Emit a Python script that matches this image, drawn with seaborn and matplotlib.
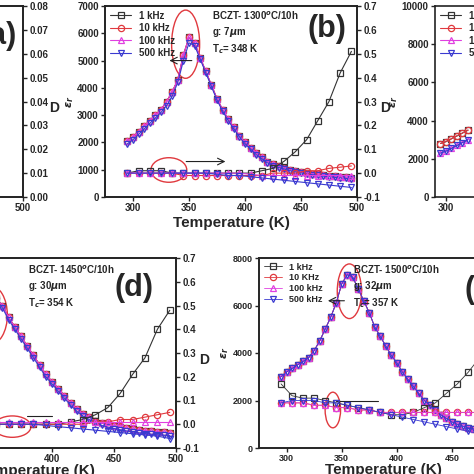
import numpy as np
import matplotlib
matplotlib.use("Agg")
import matplotlib.pyplot as plt
import seaborn as sns
from matplotlib.patches import Ellipse

sns.set_theme(style="ticks")
plt.rcParams['font.family'] = ['Liberation Sans', 'DejaVu Sans']
plt.rcParams['font.weight'] = 'bold'

freqs = ['1 kHz', '10 kHz', '100 kHz', '500 kHz']
colors = ['#333333', '#e0393e', '#e040e0', '#3a3ad0']
markers = ['s', 'o', '^', 'v']

# temperatures for permittivity (5 K) and loss (10 K)
t_eps = list(range(295, 500, 5))
t_d = list(range(295, 500, 10))

# panel (b) 1300C
eps_b_low = [2050, 2200, 2400, 2600, 2800, 3000, 3200, 3500, 3850, 4300, 5200, 5850, 5650, 5100,
             4600, 4100, 3600, 3200, 2850, 2550, 2250, 2000, 1800, 1600, 1450, 1300, 1200, 1120,
             1060, 1000, 960, 920, 890, 860, 830, 800, 780, 760, 740, 720, 700]
eps_b_500k = [1950, 2100, 2300, 2500, 2700, 2900, 3100, 3350, 3700, 4200, 5000, 5650, 5550, 5050,
              4550, 4050, 3550, 3150, 2800, 2500, 2200, 1950, 1750, 1550, 1400, 1250, 1150, 1080,
              1020, 960, 920, 880, 850, 820, 790, 760, 740, 720, 700, 680, 660]
d_b_1k = [0.0, 0.01, 0.01, 0.01, 0.0, 0.0, 0.0, 0.0, 0.0, 0.0, 0.0, 0.0, 0.01, 0.02, 0.05, 0.09,
          0.14, 0.22, 0.30, 0.42, 0.51]
d_b_10k = [0.0, 0.0, 0.0, 0.0, 0.0, -0.01, -0.01, -0.01, -0.01, -0.01, -0.01, -0.01, -0.01, 0.0,
           0.0, 0.0, 0.01, 0.01, 0.02, 0.025, 0.03]
d_b_100k = [0.0, 0.0, 0.0, 0.0, 0.0, 0.0, 0.0, 0.0, 0.0, 0.0, 0.0, -0.005, -0.01, -0.01, -0.01,
            -0.01, -0.01, -0.01, -0.01, -0.01, -0.01]
d_b_500k = [0.0, 0.0, 0.0, 0.0, 0.0, 0.0, 0.0, 0.0, -0.005, -0.01, -0.01, -0.015, -0.02, -0.025,
            -0.03, -0.035, -0.04, -0.045, -0.05, -0.055, -0.06]

# panel (d) 1450C
eps_d_low = [3000, 3200, 3400, 3600, 3900, 4200, 4600, 5000, 5500, 6000, 6300, 6400, 6300, 6000,
             5500, 5100, 4700, 4300, 3900, 3500, 3100, 2800, 2500, 2200, 1900, 1650, 1450, 1300,
             1150, 1050, 980, 920, 870, 830, 790, 760, 730, 700, 680, 660, 640]
eps_d_500k = [2900, 3100, 3300, 3500, 3800, 4100, 4500, 4900, 5400, 5900, 6200, 6300, 6200, 5900,
              5400, 5000, 4600, 4200, 3800, 3400, 3000, 2700, 2400, 2100, 1800, 1550, 1350, 1200,
              1050, 950, 880, 820, 770, 720, 680, 640, 610, 580, 560, 540, 520]
d_d_1k = [0.0, 0.0, 0.0, 0.0, 0.0, 0.0, 0.0, 0.0, 0.0, 0.0, 0.0, 0.0, 0.01, 0.02, 0.04, 0.07,
          0.13, 0.21, 0.28, 0.40, 0.48]
d_d_10k = [0.0, 0.0, 0.0, 0.0, 0.0, 0.0, 0.0, 0.0, 0.0, 0.0, 0.0, 0.0, 0.0, 0.0, 0.01, 0.01,
           0.02, 0.02, 0.03, 0.04, 0.05]
d_d_100k = [0.01, 0.01, 0.01, 0.01, 0.01, 0.01, 0.01, 0.01, 0.01, 0.01, 0.01, 0.01, 0.01, 0.01,
            0.01, 0.01, 0.01, 0.01, 0.01, 0.01, 0.01]
d_d_500k = [0.0, 0.0, 0.0, 0.0, 0.0, 0.0, 0.0, 0.0, 0.0, 0.0, -0.005, -0.01, -0.015, -0.02,
            -0.025, -0.03, -0.035, -0.04, -0.045, -0.05, -0.06]

# panel (e) 1500C
eps_e_low = [3000, 3200, 3350, 3500, 3650, 3800, 4100, 4500, 5000, 5500, 6100, 6900, 7300, 7200,
             6700, 6200, 5700, 5100, 4700, 4300, 3900, 3600, 3200, 2900, 2600, 2300, 2000, 1800,
             1600, 1400, 1250, 1100, 1000, 920, 850, 800, 760, 720, 690, 660, 640]
d_e_1k = [0.17, 0.12, 0.11, 0.11, 0.10, 0.09, 0.08, 0.07, 0.06, 0.05, 0.04, 0.04, 0.05, 0.07,
          0.09, 0.13, 0.17, 0.22, 0.28, 0.35, 0.42]
d_e_10k = [0.09, 0.09, 0.09, 0.08, 0.08, 0.07, 0.07, 0.06, 0.06, 0.05, 0.05, 0.05, 0.05, 0.05,
           0.05, 0.05, 0.05, 0.05, 0.05, 0.05, 0.05]
d_e_500k = [0.09, 0.10, 0.10, 0.10, 0.09, 0.09, 0.08, 0.07, 0.06, 0.05, 0.04, 0.03, 0.02, 0.01,
            0.0, -0.01, -0.02, -0.03, -0.04, -0.05, -0.06]

# panel (c) 1400C, only the left edge is visible
t_c = [295, 300, 305, 310, 315, 320]
eps_c_1k = [2800, 2900, 3050, 3200, 3350, 3500]
eps_c_500k = [2300, 2400, 2550, 2700, 2850, 3000]

W = 474.0


def px_axes(fig, left, top, width, height):
    return fig.add_axes([left / W, (W - top - height) / W, width / W, height / W])


def style(ax, fs=7):
    for s in ax.spines.values():
        s.set_linewidth(1.2)
        s.set_color('#222222')
    ax.tick_params(labelsize=fs, width=1, length=3, direction='out', pad=1.5)
    for lab in ax.get_xticklabels() + ax.get_yticklabels():
        lab.set_fontweight('bold')


def series(ax, x, y, i, ms=4.5, lw=0.8, legend=True):
    sns.lineplot(x=x, y=y, ax=ax, color=colors[i], marker=markers[i], markersize=ms,
                 markerfacecolor='none', markeredgecolor=colors[i], markeredgewidth=0.9,
                 linewidth=lw, label=freqs[i] if legend else None, legend=legend)


fig = plt.figure(figsize=(4.74, 4.74), dpi=100)

# ---- panel (b)
ax = px_axes(fig, 105, 6, 252, 191)
eps_b = [eps_b_low, eps_b_low, eps_b_low, eps_b_500k]
d_b = [d_b_1k, d_b_10k, d_b_100k, d_b_500k]
ax2 = ax.twinx()
for i in range(4):
    series(ax, t_eps, eps_b[i], i)
    series(ax2, t_d, d_b[i], i, legend=False)
ax.set_xlim(275, 500)
ax.set_ylim(0, 7000)
ax2.set_ylim(-0.1, 0.7)
ax.set_xticks([300, 350, 400, 450, 500])
ax.set_yticks(range(0, 7001, 1000))
ax2.set_yticks(np.round(np.arange(-0.1, 0.71, 0.1), 1))
ax2.set_yticklabels(['-0.1', '0.0', '0.1', '0.2', '0.3', '0.4', '0.5', '0.6', '0.7'])
ax.set_xlabel('Temperature (K)', fontsize=11, fontweight='bold', labelpad=2)
ax.set_ylabel(r'$\varepsilon_r$', fontsize=8, labelpad=1)
ax2.set_ylabel('D', fontsize=10, fontweight='bold', rotation=0, labelpad=4)
style(ax); style(ax2)
ax.legend(loc='upper left', frameon=False, handlelength=2.2, borderaxespad=0.1,
          labelspacing=0.25, prop={'weight': 'bold', 'size': 7})
ax.text(0.425, 0.98, 'BCZT- 1300$^o$C/10h\ng: 7$\\mu$m\nT$_c$= 348 K', transform=ax.transAxes,
        fontsize=7, fontweight='bold', va='top', linespacing=1.3)
ax.text(0.88, 0.88, '(b)', transform=ax.transAxes, fontsize=22, fontweight='bold',
        ha='center', va='center')
ax.add_patch(Ellipse((347, 5600), 25, 2500, fill=False, color='#e0393e', lw=1.0))
ax.add_patch(Ellipse((332, 990), 32, 900, fill=False, color='#e0393e', lw=1.0))
ax.annotate('', xy=(330, 5000), xytext=(355, 5000),
            arrowprops=dict(arrowstyle='->', color='#222222', lw=0.8))
ax.annotate('', xy=(385, 1300), xytext=(345, 1300),
            arrowprops=dict(arrowstyle='->', color='#222222', lw=0.8))

# ---- panel (a), only the right edge
axa = px_axes(fig, -229, 6, 252, 191)
axa2 = axa.twinx()
axa.set_xlim(275, 500)
axa.set_xticks([500])
axa.set_yticks([])
axa2.set_ylim(0, 0.08)
axa2.set_yticks(np.round(np.arange(0, 0.081, 0.01), 2))
axa2.set_yticklabels(['0.00', '0.01', '0.02', '0.03', '0.04', '0.05', '0.06', '0.07', '0.08'])
axa2.set_ylabel('D', fontsize=10, fontweight='bold', rotation=0, labelpad=4)
style(axa); style(axa2)
fig.text(0.036, 0.925, '(a)', fontsize=22, fontweight='bold', ha='right', va='center')

# ---- panel (c), only the left edge
axc = px_axes(fig, 435, 6, 231, 191)
series(axc, t_c, eps_c_1k, 0)
series(axc, t_c, eps_c_1k, 1)
series(axc, t_c, eps_c_500k, 2)
series(axc, t_c, eps_c_500k, 3)
axc.set_xlim(290, 500)
axc.set_ylim(0, 10000)
axc.set_xticks([300, 350, 400, 450, 500])
axc.set_yticks(range(0, 10001, 2000))
axc.set_ylabel(r'$\varepsilon_r$', fontsize=8, labelpad=1)
style(axc)
axc.legend(loc='upper left', frameon=False, handlelength=2.2, borderaxespad=0.1,
           labelspacing=0.25, prop={'weight': 'bold', 'size': 7})

# ---- panel (d)
axd = px_axes(fig, -103, 258, 279, 190)
axd2 = axd.twinx()
eps_d = [eps_d_low, eps_d_low, eps_d_low, eps_d_500k]
d_d = [d_d_1k, d_d_10k, d_d_100k, d_d_500k]
for i in range(4):
    series(axd, t_eps, eps_d[i], i, legend=False)
    series(axd2, t_d, d_d[i], i, legend=False)
axd.set_xlim(275, 500)
axd.set_ylim(0, 8000)
axd2.set_ylim(-0.1, 0.7)
axd.set_xticks([300, 350, 400, 450, 500])
axd.set_yticks([])
axd2.set_yticks(np.round(np.arange(-0.1, 0.71, 0.1), 1))
axd2.set_yticklabels(['-0.1', '0.0', '0.1', '0.2', '0.3', '0.4', '0.5', '0.6', '0.7'])
axd.set_xlabel('Temperature (K)', fontsize=11, fontweight='bold', labelpad=0)
axd2.set_ylabel('D', fontsize=10, fontweight='bold', rotation=0, labelpad=4)
style(axd); style(axd2)
axd.text(0.47, 0.97, 'BCZT- 1450$^o$C/10h\ng: 30$\\mu$m\nT$_c$= 354 K', transform=axd.transAxes,
         fontsize=7, fontweight='bold', va='top', linespacing=1.3)
axd.text(0.85, 0.84, '(d)', transform=axd.transAxes, fontsize=22, fontweight='bold',
         ha='center', va='center')
axd.add_patch(Ellipse((350, 5600), 28, 2500, fill=False, color='#e0393e', lw=1.0))
axd.add_patch(Ellipse((368, 900), 30, 900, fill=False, color='#e0393e', lw=1.0))
axd.plot([380, 400], [1350, 1350], color='#222222', lw=0.8)

# ---- panel (e)
axe = px_axes(fig, 259, 258, 248, 190)
axe2 = axe.twinx()
d_e = [d_e_1k, d_e_10k, d_e_10k, d_e_500k]
for i in range(4):
    series(axe, t_eps, eps_e_low, i, lw=0.6)
    series(axe2, t_d, d_e[i], i, lw=0.6, legend=False)
axe.set_xlim(275, 500)
axe.set_ylim(0, 8000)
axe2.set_ylim(-0.1, 0.7)
axe.set_xticks([300, 350, 400, 450, 500])
axe.set_yticks(range(0, 8001, 2000))
axe2.set_yticks([])
axe.set_xlabel('Temperature (K)', fontsize=11, fontweight='bold', labelpad=0)
axe.set_ylabel(r'$\varepsilon_r$', fontsize=8, labelpad=1)
style(axe, fs=6.5)
handles, _ = axe.get_legend_handles_labels()
axe.legend(handles, ['1 kHz', '10 KHz', '100 kHz', '500 kHz'], loc='upper left', frameon=False,
           handlelength=2.0, borderaxespad=0.1, labelspacing=0.2,
           prop={'weight': 'bold', 'size': 6.5})
axe.text(0.38, 0.97, 'BCZT- 1500$^o$C/10h\ng: 32$\\mu$m\nT$_c$= 357 K', transform=axe.transAxes,
         fontsize=7, fontweight='bold', va='top', linespacing=1.3)
axe.text(0.83, 0.83, '(e)', transform=axe.transAxes, fontsize=22, fontweight='bold',
         ha='left', va='center')
axe.add_patch(Ellipse((357, 6600), 22, 2300, fill=False, color='#e0393e', lw=1.0))
axe.add_patch(Ellipse((342, 1600), 14, 1500, fill=False, color='#e0393e', lw=1.0))
axe.annotate('', xy=(335, 6200), xytext=(355, 6200),
             arrowprops=dict(arrowstyle='->', color='#222222', lw=0.8))
axe.plot([345, 383], [2000, 2000], color='#222222', lw=0.8)

fig.savefig('out.png', dpi=100)
